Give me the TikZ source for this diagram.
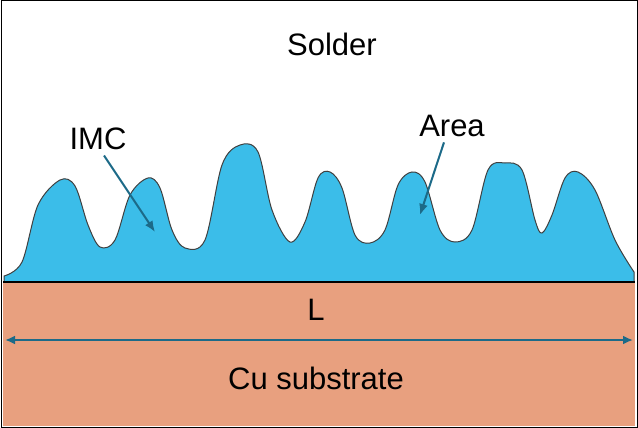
\documentclass[tikz,border=0pt]{standalone}
\usepackage{fontspec}
\usetikzlibrary{arrows.meta}
\setmainfont{Liberation Sans}
\definecolor{imc}{HTML}{3BBDE9}
\definecolor{cu}{HTML}{E8A07F}
\definecolor{arr}{HTML}{1C6A88}
\begin{document}
\begin{tikzpicture}[x=1pt,y=-1pt,
  lbl/.style={font=\fontsize{31}{34}\selectfont},
  ptr/.style={draw=arr,line width=2pt,-{Latex[length=11pt,width=9pt]}}]
\useasboundingbox (0,0) rectangle (638,428);
\fill[white] (0,0) rectangle (638,428);
\fill[cu] (3,282) rectangle (635,426);
\filldraw[fill=imc,draw=black!75,line width=1pt] plot[smooth,tension=0.55] coordinates {(4,276) (22,262) (38,205) (60,180) (75,186) (88,225) (100,247) (115,240) (130,195) (148,178) (160,188) (172,230) (185,248) (205,240) (222,165) (240,145) (258,152) (272,210) (290,242) (305,222) (318,178) (330,172) (342,188) (355,235) (370,243) (385,230) (398,185) (412,172) (425,182) (440,230) (455,242) (472,230) (488,170) (505,163) (522,170) (535,220) (542,233) (552,215) (565,178) (578,172) (595,190) (615,240) (634,272)} -- (634,282) -- (4,282) -- cycle;
\draw[line width=1.5pt] (3,282) -- (635,282);
\draw[line width=1pt] (1,1) rectangle (637,427);
\node[lbl] (solder) at (332,44) {Solder};
\node[lbl] (imclbl) at (98,139) {IMC};
\node[lbl] (area) at (452,126) {Area};
\node[lbl] (L) at (316,310) {L};
\node[lbl] (cu) at (316,378) {Cu substrate};
\coordinate (imctip) at (155,232);
\coordinate (areatip) at (420,215);
\coordinate (la) at (5,340);
\coordinate (lb) at (633,340);
\draw[ptr] (imclbl.south) ++(6,2) -- (imctip);
\draw[ptr] (area.south) ++(-8,2) -- (areatip);
\draw[draw=arr,line width=2pt,{Latex[length=10pt,width=9pt]}-{Latex[length=10pt,width=9pt]}] (la) -- (lb);
\end{tikzpicture}
\end{document}
